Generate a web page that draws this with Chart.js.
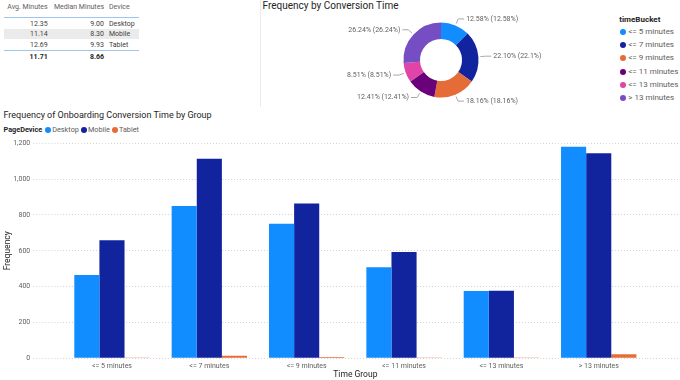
<!DOCTYPE html>
<html>
<head>
<meta charset="utf-8">
<script src="https://cdn.jsdelivr.net/npm/chart.js@4"></script>
<style>
html,body{margin:0;padding:0;background:#fff;width:680px;height:380px;overflow:hidden;font-family:'Segoe UI',Roboto,sans-serif;}
.abs{position:absolute;white-space:nowrap;}
.title{font-size:10px;color:#252423;height:12px;line-height:12px;}
.leg{font-size:8px;color:#605E5C;height:10px;line-height:10px;display:flex;align-items:center;}
.dot{display:inline-block;width:6px;height:6px;border-radius:50%;margin-right:2px;}
canvas{position:absolute;}
</style>
</head>
<body>
<div id="table"></div>
<div class="abs" style="left:260px;top:0;width:1px;height:107px;background:#EDEBE9;"></div>
<div class="abs title" style="left:262.5px;top:-0.5px;">Frequency by Conversion Time</div>
<canvas id="donut" width="300" height="110" style="left:262px;top:0;"></canvas>
<div id="donutLegend"></div>
<div class="abs title" style="left:3.5px;top:109px;font-size:9px;">Frequency of Onboarding Conversion Time by Group</div>
<div id="barLegend" class="abs leg" style="left:3.5px;top:125px;font-size:7.3px;"></div>
<canvas id="bar" width="680" height="244" style="left:0;top:136px;"></canvas>
<script>
// ---- table data ----
const tableHeaders = ['Avg. Minutes', 'Median Minutes', 'Device'];
const avgMinutes = [12.35, 11.14, 12.69];
const medianMinutes = [9.00, 8.30, 9.93];
const devices = ['Desktop', 'Mobile', 'Tablet'];
const totalAvg = 11.71;
const totalMedian = 8.66;

// ---- donut data ----
const buckets = ['<= 5 minutes', '<= 7 minutes', '<= 9 minutes', '<= 11 minutes', '<= 13 minutes', '> 13 minutes'];
const bucketShare = [12.58, 22.10, 18.16, 12.41, 8.51, 26.24];
const bucketShareLabels = ['12.58% (12.58%)', '22.10% (22.1%)', '18.16% (18.16%)', '12.41% (12.41%)', '8.51% (8.51%)', '26.24% (26.24%)'];
const bucketColors = ['#118DFF', '#12239E', '#E66C37', '#6B007B', '#E044A7', '#744EC2'];

// ---- bar data ----
const timeGroups = ['<= 5 minutes', '<= 7 minutes', '<= 9 minutes', '<= 11 minutes', '<= 13 minutes', '> 13 minutes'];
const desktopFreq = [465, 849, 751, 508, 376, 1180];
const mobileFreq = [658, 1113, 864, 593, 377, 1144];
const tabletFreq = [4, 14, 7, 5, 4, 22];
const seriesNames = ['Desktop', 'Mobile', 'Tablet'];
const seriesColors = ['#118DFF', '#12239E', '#E66C37'];
const yMax = 1200;
const yStep = 200;

const FONT = "'Segoe UI', Roboto, sans-serif";

// ---- build table ----
(function(){
  const t = document.getElementById('table');
  const add = (html) => { t.insertAdjacentHTML('beforeend', html); };
  const LH = 10;
  const cell = (text, cx, cy, align, extra) => {
    const style = align === 'right'
      ? `left:${cx-70}px;width:70px;text-align:right;`
      : `left:${cx}px;`;
    add(`<div class="abs" style="${style}top:${cy-LH/2}px;height:${LH}px;line-height:${LH}px;font-size:7px;${extra||''}">${text}</div>`);
  };
  add(`<div class="abs" style="left:4px;top:29.3px;width:135px;height:10px;background:#EBEBEB;"></div>`);
  add(`<div class="abs" style="left:4px;top:16.5px;width:135px;height:1px;background:#9CC6EE;"></div>`);
  add(`<div class="abs" style="left:4px;top:50.2px;width:135px;height:1px;background:#9CC6EE;"></div>`);
  const rights = [47.7, 104];
  const devLeft = 109;
  const hy = 7.3;
  cell(tableHeaders[0], rights[0], hy, 'right', 'color:#605E5C;');
  cell(tableHeaders[1], rights[1], hy, 'right', 'color:#605E5C;');
  cell(tableHeaders[2], devLeft, hy, 'left', 'color:#605E5C;');
  const rowYs = [23.6, 34.4, 45.3];
  for (let i = 0; i < devices.length; i++) {
    cell(avgMinutes[i].toFixed(2), rights[0], rowYs[i], 'right', 'color:#404040;');
    cell(medianMinutes[i].toFixed(2), rights[1], rowYs[i], 'right', 'color:#404040;');
    cell(devices[i], devLeft, rowYs[i], 'left', 'color:#404040;');
  }
  cell(totalAvg.toFixed(2), rights[0], 56.7, 'right', 'color:#252423;font-weight:bold;');
  cell(totalMedian.toFixed(2), rights[1], 56.7, 'right', 'color:#252423;font-weight:bold;');
})();

// ---- donut legend ----
(function(){
  const d = document.getElementById('donutLegend');
  let html = `<div class="abs leg" style="left:619.3px;top:15px;color:#252423;font-weight:bold;">timeBucket</div>`;
  buckets.forEach((b, i) => {
    const cy = 31.7 + i * 13.33;
    html += `<div class="abs leg" style="left:620.3px;top:${cy-5}px;"><span class="dot" style="background:${bucketColors[i]}"></span>${b}</div>`;
  });
  d.innerHTML = html;
})();

// ---- bar legend ----
(function(){
  const l = document.getElementById('barLegend');
  let html = `<span style="color:#252423;font-weight:bold;margin-right:3px;">PageDevice</span>`;
  seriesNames.forEach((n, i) => {
    html += `<span class="dot" style="background:${seriesColors[i]};margin-left:${i?2:0}px;margin-right:1px;"></span><span>${n}</span>`;
  });
  l.innerHTML = html;
})();

// ---- donut chart ----
const donutLabels = {
  id: 'donutLabels',
  afterDatasetsDraw(chart) {
    const ctx = chart.ctx;
    const meta = chart.getDatasetMeta(0);
    ctx.save();
    ctx.font = '7px ' + FONT;
    ctx.fillStyle = '#605E5C';
    ctx.strokeStyle = '#A8A8A8';
    ctx.lineWidth = 1;
    ctx.textBaseline = 'middle';
    meta.data.forEach((arc, i) => {
      const p = arc.getProps(['x', 'y', 'startAngle', 'endAngle', 'outerRadius'], true);
      const mid = (p.startAngle + p.endAngle) / 2;
      const c = Math.cos(mid), s = Math.sin(mid);
      const x1 = p.x + c * (p.outerRadius + 2), y1 = p.y + s * (p.outerRadius + 2);
      const x2 = p.x + c * (p.outerRadius + 7), y2 = p.y + s * (p.outerRadius + 7);
      const dir = c >= 0 ? 1 : -1;
      const x3 = x2 + dir * 6;
      ctx.beginPath();
      ctx.moveTo(x1, y1); ctx.lineTo(x2, y2); ctx.lineTo(x3, y2);
      ctx.stroke();
      ctx.textAlign = dir > 0 ? 'left' : 'right';
      ctx.fillText(bucketShareLabels[i], x3 + dir * 2, y2);
    });
    ctx.restore();
  }
};

new Chart(document.getElementById('donut'), {
  type: 'doughnut',
  data: {
    labels: buckets,
    datasets: [{ data: bucketShare, backgroundColor: bucketColors, borderWidth: 0 }]
  },
  options: {
    responsive: false,
    animation: false,
    devicePixelRatio: 1,
    cutout: '56%',
    layout: { padding: { top: 22.5, bottom: 12.5, left: 141.5, right: 83.5 } },
    plugins: { legend: { display: false }, tooltip: { enabled: false } }
  },
  plugins: [donutLabels]
});

// ---- bar chart ----
const seriesData = [desktopFreq, mobileFreq, tabletFreq];
const GRID = '#D4D4D4';
new Chart(document.getElementById('bar'), {
  type: 'bar',
  data: {
    labels: timeGroups,
    datasets: seriesNames.map((n, i) => ({
      label: n,
      data: seriesData[i],
      backgroundColor: seriesColors[i],
      borderWidth: 0,
      categoryPercentage: 0.774,
      barPercentage: 1.0
    }))
  },
  options: {
    responsive: false,
    animation: false,
    devicePixelRatio: 1,
    layout: { padding: { top: 6.7, left: 0, right: 0, bottom: 0 } },
    plugins: { legend: { display: false }, tooltip: { enabled: false } },
    scales: {
      x: {
        grid: { display: false, drawTicks: false },
        border: { display: false },
        ticks: { font: { size: 7, family: FONT }, color: '#605E5C', padding: 3.5, maxRotation: 0, autoSkip: false },
        title: { display: true, text: 'Time Group', font: { size: 8.5, family: FONT }, color: '#252423', padding: { top: 0, bottom: 0 } },
        afterFit(s) { s.height = 21.7; }
      },
      y: {
        min: 0, max: yMax,
        ticks: { stepSize: yStep, padding: 3, font: { size: 7, family: FONT }, color: '#605E5C',
                 callback: v => v.toLocaleString('en-US') },
        grid: { color: GRID, lineWidth: 1, tickLength: 30, tickColor: GRID, tickBorderDash: [1, 2] },
        border: { display: false, dash: [1, 2] },
        title: { display: true, text: 'Frequency', font: { size: 8.5, family: FONT }, color: '#252423', padding: { top: 3, bottom: 0 } },
        afterFit(s) { s.width = 63.3; }
      },
      y2: {
        position: 'right',
        min: 0, max: yMax,
        ticks: { display: false, stepSize: yStep },
        grid: { drawOnChartArea: false, tickLength: 33, tickColor: GRID, tickBorderDash: [1, 2] },
        border: { display: false },
        afterFit(s) { s.width = 32.6; }
      }
    }
  }
});
</script>
</body>
</html>
